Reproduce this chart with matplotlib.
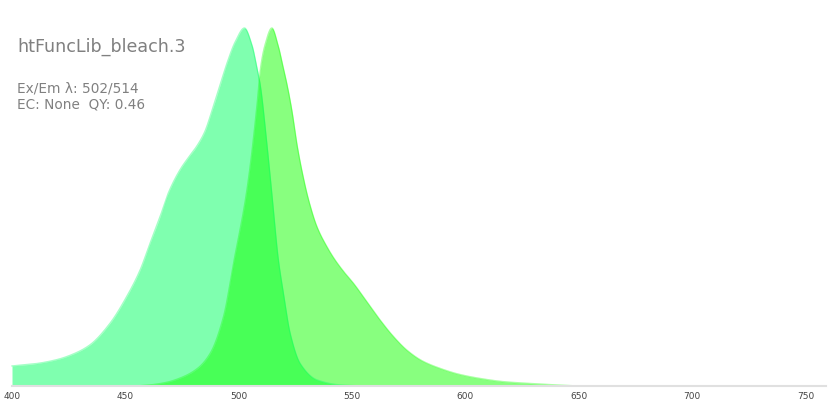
import matplotlib.pyplot as plt
import numpy as np

# excitation spectrum
ex_wl = [400, 410, 420, 428, 434.4, 443.2, 450.6, 456.5, 460.9, 465.3, 469, 474, 478,
         481.5, 485, 488.5, 491.5, 495, 498.5, 502.5, 505.8, 508, 509.4, 512.4, 514.6,
         517.5, 519.7, 522.7, 527.1, 534.5, 544.7, 555]
ex_val = [0.056, 0.062, 0.074, 0.092, 0.115, 0.175, 0.25, 0.324, 0.399, 0.473, 0.54, 0.603,
          0.64, 0.67, 0.71, 0.775, 0.835, 0.905, 0.962, 1.0, 0.953, 0.89, 0.845, 0.678, 0.538,
          0.352, 0.26, 0.147, 0.063, 0.017, 0.003, 0.0]

# emission spectrum
em_wl = [455, 460.9, 468, 475.6, 482, 487.4, 493.3, 497.7, 503.6, 508.3, 509.4, 511.6,
         514.6, 517.3, 519.6, 521.2, 523.4, 525.6, 527.8, 530.8, 534.5, 538.9, 542.5, 546.5,
         550.6, 556, 562.4, 568, 574.2, 581, 588.9, 597, 606.5, 617, 628.6, 640, 650]
em_val = [0.0, 0.003, 0.01, 0.026, 0.05, 0.091, 0.194, 0.343, 0.547, 0.80, 0.878, 0.953,
          1.0, 0.953, 0.89, 0.845, 0.771, 0.678, 0.603, 0.52, 0.445, 0.389, 0.352, 0.318,
          0.287, 0.24, 0.184, 0.14, 0.10, 0.07, 0.049, 0.033, 0.021, 0.012, 0.007, 0.003, 0.0]

name = "htFuncLib_bleach.3"
info = ["Ex/Em λ: 502/514", "EC: None  QY: 0.46"]

ex_color = "#00ff60"
em_color = "#12ff00"


def pchip(wl, val, n=800):
    # monotone cubic through the read points, only to draw a smooth edge
    x = np.asarray(wl, float)
    y = np.asarray(val, float)
    h = np.diff(x)
    d = np.diff(y) / h
    m = np.zeros_like(y)
    for i in range(1, len(y) - 1):
        if d[i - 1] * d[i] > 0:
            w1 = 2 * h[i] + h[i - 1]
            w2 = h[i] + 2 * h[i - 1]
            m[i] = (w1 + w2) / (w1 / d[i - 1] + w2 / d[i])
    m[0], m[-1] = d[0], d[-1]
    xs = np.linspace(x[0], x[-1], n)
    k = np.clip(np.searchsorted(x, xs) - 1, 0, len(x) - 2)
    t = (xs - x[k]) / h[k]
    h00 = 2 * t**3 - 3 * t**2 + 1
    h10 = t**3 - 2 * t**2 + t
    h01 = -2 * t**3 + 3 * t**2
    h11 = t**3 - t**2
    ys = h00 * y[k] + h10 * h[k] * m[k] + h01 * y[k + 1] + h11 * h[k] * m[k + 1]
    return xs, np.clip(ys, 0, None)


fig = plt.figure(figsize=(8.4, 4.2), dpi=100)
ax = fig.add_axes([12 / 840, 34 / 420, 814 / 840, 358 / 420])

x1, y1 = pchip(ex_wl, ex_val)
x2, y2 = pchip(em_wl, em_val)

ax.fill_between(x1, 0, y1, color=ex_color, alpha=0.5, lw=0)
ax.plot(x1, y1, color=ex_color, alpha=0.35, lw=1, clip_on=False)
ax.fill_between(x2, 0, y2, color=em_color, alpha=0.5, lw=0)
ax.plot(x2, y2, color=em_color, alpha=0.35, lw=1, clip_on=False)

ax.set_xlim(400, 759)
ax.set_ylim(0, 1)
ax.set_xticks([400, 450, 500, 550, 600, 650, 700, 750])
ax.tick_params(axis="x", length=0, labelsize=6.5, labelcolor="#444444", pad=4)
ax.set_yticks([])
for s in ["top", "left", "right"]:
    ax.spines[s].set_visible(False)
ax.spines["bottom"].set_color("#e0e0e0")
ax.spines["bottom"].set_linewidth(1.5)

fig.text(17 / 840, 1 - 46.5 / 420, name, fontsize=12.6, color="#808080", va="center")
fig.text(17 / 840, 1 - 88.5 / 420, info[0], fontsize=9.8, color="#808080", va="center")
fig.text(17 / 840, 1 - 104.5 / 420, info[1], fontsize=9.8, color="#808080", va="center")

fig.savefig("out.png", dpi=100)
